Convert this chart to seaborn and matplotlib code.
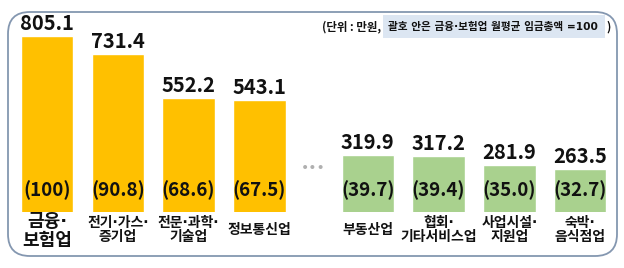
import matplotlib
matplotlib.use("Agg")
import matplotlib.pyplot as plt
from matplotlib.patches import FancyBboxPatch
import seaborn as sns
import pandas as pd

categories = ["금융·\n보험업", "전기·가스·\n증기업", "전문·과학·\n기술업", "정보통신업",
              "부동산업", "협회·\n기타서비스업", "사업시설·\n지원업", "숙박·\n음식점업"]
wages = [805.1, 731.4, 552.2, 543.1, 319.9, 317.2, 281.9, 263.5]
index_labels = ["(100)", "(90.8)", "(68.6)", "(67.5)", "(39.7)", "(39.4)", "(35.0)", "(32.7)"]
groups = ["top", "top", "top", "top", "bottom", "bottom", "bottom", "bottom"]
note_unit = "(단위 : 만원,"
note_text = "괄호 안은 금융·보험업 월평균 임금총액 =100"

sns.set_theme(style="white")
plt.rcParams["font.family"] = ["Noto Sans CJK KR", "DejaVu Sans"]
mixed = ["DejaVu Sans", "Noto Sans CJK KR"]

W, H = 624, 268
fig = plt.figure(figsize=(W / 100, H / 100), dpi=100)
base_px = 56
ax = fig.add_axes([0, base_px / H, 1, 1 - base_px / H])

# layout: gap between the two groups
pos = [i + (0.53 if i >= 4 else 0) for i in range(len(wages))]
df = pd.DataFrame({"pos": pos, "value": wages, "group": groups})

sns.barplot(data=df, x="pos", y="value", hue="group", native_scale=True,
            palette={"top": "#FFC000", "bottom": "#A9D18E"}, saturation=1,
            width=0.74, dodge=False, legend=False, ax=ax)

slot = 70.8
ax.set_xlim(-47 / slot, (W - 47) / slot)
y0 = 88.8
ax.set_ylim(y0, y0 + (H - base_px) / 0.2455)
ax.set_axis_off()

for i, (p, v) in enumerate(zip(pos, wages)):
    ax.annotate(f"{v:.1f}", (p, v), xytext=(0, 1.5), textcoords="offset points",
                ha="center", va="bottom", fontsize=14.5, fontweight="bold",
                color="#111111", annotation_clip=False)
    ax.annotate(index_labels[i], (p, y0), xytext=(0, 16), textcoords="offset points",
                ha="center", va="center", fontsize=13.5, fontweight="bold",
                color="#111111", annotation_clip=False)
    if i == 0:
        ax.annotate(categories[i], (p, y0), xytext=(0, -14), textcoords="offset points",
                    ha="center", va="center", fontsize=13, fontweight="bold",
                    family=mixed, color="#111111", linespacing=1.1,
                    annotation_clip=False)
    else:
        ax.annotate(categories[i], (p, y0), xytext=(0, -13), textcoords="offset points",
                    ha="center", va="center", fontsize=10, fontweight="bold",
                    family=mixed, color="#111111", linespacing=1.0,
                    annotation_clip=False)

# ellipsis between groups
ax.annotate("•••", ((313 - 47) / slot, y0), xytext=(0, 44 * 0.72), textcoords="offset points",
            ha="center", va="center", fontsize=10, family="DejaVu Sans",
            color="#B0B0B0", annotation_clip=False)

# rounded frame
frame = FancyBboxPatch((8 / W, 12 / H), (617 - 8) / W, (256 - 8 - 4) / H,
                       boxstyle="round,pad=0,rounding_size=0.035",
                       transform=fig.transFigure, fill=False,
                       edgecolor="#8497B0", linewidth=1.3, mutation_aspect=W / H)
fig.patches.append(frame)

# note
renderer = fig.canvas.get_renderer()


def fit_text(x_left, x_right, s, size, **kw):
    t = fig.text(x_left / W, 1 - 27 / H, s, ha="left", va="center", fontsize=size,
                 fontweight="bold", color="#111111", **kw)
    w = t.get_window_extent(renderer).width
    t.set_fontsize(size * (x_right - x_left) / w)
    return t


hl = FancyBboxPatch((383 / W, 1 - 38 / H), (605 - 383) / W, 23 / H,
                    boxstyle="square,pad=0", transform=fig.transFigure,
                    facecolor="#DCE6F2", edgecolor="none")
fig.patches.append(hl)
fit_text(322, 381, note_unit, 9)
fit_text(388, 598, note_text, 9, family=mixed)
fig.text(609 / W, 1 - 27 / H, ")", ha="center", va="center", fontsize=8.5,
         fontweight="bold", color="#111111")

fig.savefig("out.png", dpi=100)
